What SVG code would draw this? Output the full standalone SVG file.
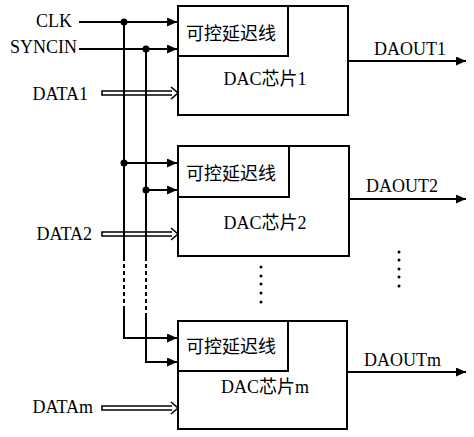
<svg xmlns="http://www.w3.org/2000/svg" width="474" height="437" viewBox="0 0 474 437">
<style>
.t{font-family:"Liberation Serif","Noto Sans CJK SC",serif;font-size:18px;fill:#000}
.ln{stroke:#000;stroke-width:2;fill:none}
.box{stroke:#000;stroke-width:2;fill:#fff}
.dbl{stroke:#000;stroke-width:1.6;fill:none}
.dot{fill:#000}
</style>
<defs>
<marker id="ah" markerUnits="userSpaceOnUse" markerWidth="10" markerHeight="9" refX="10" refY="4.5" orient="auto">
<path d="M0,0 L10,4.5 L0,9 z" fill="#000"/>
</marker>
</defs>
<rect width="474" height="437" fill="#fff"/>
<g id="labels">
<text class="t" x="72" y="27" text-anchor="end">CLK</text>
<text class="t" x="77" y="53" text-anchor="end">SYNCIN</text>
<text class="t" x="88" y="100" text-anchor="end">DATA1</text>
<text class="t" x="92" y="240" text-anchor="end">DATA2</text>
<text class="t" x="93" y="413" text-anchor="end">DATAm</text>
</g>
<g id="dac1">
<rect class="box" x="178" y="6" width="170" height="109"/>
<rect class="box" x="178" y="6" width="110" height="50"/>
<text class="t" x="186" y="40">可控延迟线</text>
<text class="t" x="265" y="85" text-anchor="middle">DAC芯片1</text>
</g>
<g id="dac2">
<rect class="box" x="178" y="146" width="171" height="110"/>
<rect class="box" x="178" y="146" width="111" height="51"/>
<text class="t" x="186" y="180">可控延迟线</text>
<text class="t" x="265" y="229" text-anchor="middle">DAC芯片2</text>
</g>
<g id="dacm">
<rect class="box" x="178" y="321" width="169" height="108"/>
<rect class="box" x="178" y="321" width="110" height="50"/>
<text class="t" x="186" y="353">可控延迟线</text>
<text class="t" x="265" y="393" text-anchor="middle">DAC芯片m</text>
</g>
<g id="outputs">
<text class="t" x="374" y="55">DAOUT1</text>
<text class="t" x="366" y="192">DAOUT2</text>
<text class="t" x="364" y="366">DAOUTm</text>
</g>
<g id="connectors">
<path class="ln" d="M79,22 H177" marker-end="url(#ah)"/>
<path class="ln" d="M79,49 H177" marker-end="url(#ah)"/>
<path class="ln" d="M124,22 V257"/>
<path class="ln" d="M146,49 V257"/>
<path class="ln" d="M124,257 V308" stroke-dasharray="4,3"/>
<path class="ln" d="M146,257 V313" stroke-dasharray="4,3"/>
<path class="ln" d="M124,308 V338 H177" marker-end="url(#ah)"/>
<path class="ln" d="M146,313 V362 H177" marker-end="url(#ah)"/>
<path class="ln" d="M124,163 H177" marker-end="url(#ah)"/>
<path class="ln" d="M146,190 H177" marker-end="url(#ah)"/>
<circle class="dot" cx="124" cy="22" r="3.5"/>
<circle class="dot" cx="146" cy="49" r="3.5"/>
<circle class="dot" cx="124" cy="163" r="3.5"/>
<circle class="dot" cx="146" cy="190" r="3.5"/>
<path class="dbl" d="M172,91 H102 V95 H172 M171,87 L178,93 L171,99"/>
<path class="dbl" d="M172,232 H102 V236 H172 M171,228 L178,234 L171,240"/>
<path class="dbl" d="M172,406 H102 V410 H172 M171,402 L178,408 L171,414"/>
<path class="ln" d="M348,61 H466" marker-end="url(#ah)"/>
<path class="ln" d="M349,199 H466" marker-end="url(#ah)"/>
<path class="ln" d="M347,372 H466" marker-end="url(#ah)"/>
</g>
<g id="ellipsis">
<circle class="dot" cx="261" cy="267" r="1.5"/>
<circle class="dot" cx="261" cy="276" r="1.5"/>
<circle class="dot" cx="261" cy="284" r="1.5"/>
<circle class="dot" cx="261" cy="293" r="1.5"/>
<circle class="dot" cx="261" cy="302" r="1.5"/>
<circle class="dot" cx="399" cy="252" r="1.5"/>
<circle class="dot" cx="399" cy="260" r="1.5"/>
<circle class="dot" cx="399" cy="269" r="1.5"/>
<circle class="dot" cx="399" cy="277" r="1.5"/>
<circle class="dot" cx="399" cy="286" r="1.5"/>
</g>
</svg>
